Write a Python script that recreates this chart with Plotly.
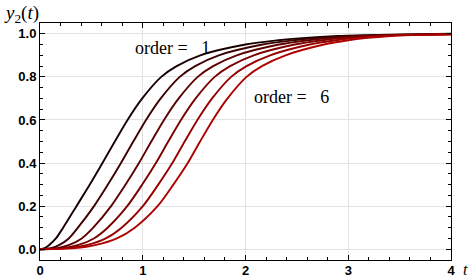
import plotly.graph_objects as go

levels = [0, 0.005, 0.02, 0.05, 0.1, 0.2, 0.3, 0.4, 0.5, 0.6, 0.7, 0.8, 0.85,
          0.9, 0.95, 0.97, 0.98, 0.99, 0.995]
end_values = [1.0, 0.999, 0.999, 0.998, 0.998, 0.997]

# time t at which each curve reaches the levels above (last entry: t = 4)
t_order1 = [0, 0.045, 0.09, 0.155, 0.225, 0.355, 0.485, 0.608, 0.728, 0.852, 0.995,
            1.18, 1.33, 1.56, 2.0, 2.32, 2.55, 2.9, 3.3, 4.0]
t_order2 = [0, 0.108, 0.189, 0.28, 0.369, 0.526, 0.661, 0.788, 0.908, 1.032, 1.175,
            1.36, 1.51, 1.74, 2.166, 2.468, 2.683, 3.012, 3.39, 4.0]
t_order3 = [0, 0.169, 0.285, 0.406, 0.518, 0.692, 0.833, 0.963, 1.083, 1.207, 1.35,
            1.535, 1.685, 1.915, 2.327, 2.611, 2.813, 3.12, 3.478, 4.0]
t_order4 = [0, 0.227, 0.376, 0.524, 0.658, 0.849, 0.995, 1.128, 1.248, 1.372, 1.515,
            1.70, 1.85, 2.08, 2.478, 2.746, 2.935, 3.222, 3.56, 4.0]
t_order5 = [0, 0.283, 0.464, 0.64, 0.794, 1.001, 1.151, 1.288, 1.408, 1.532, 1.675,
            1.86, 2.01, 2.24, 2.626, 2.878, 3.053, 3.322, 3.64, 4.0]
t_order6 = [0, 0.336, 0.547, 0.748, 0.922, 1.144, 1.298, 1.438, 1.558, 1.682, 1.825,
            2.01, 2.16, 2.39, 2.764, 3.001, 3.164, 3.415, 3.715, 4.0]

t_series = [t_order1, t_order2, t_order3, t_order4, t_order5, t_order6]
colors = ["rgb(25,0,0)", "rgb(60,0,0)", "rgb(92,0,0)", "rgb(122,0,0)",
          "rgb(150,0,0)", "rgb(175,0,0)"]

x_ticks = [0, 1, 2, 3, 4]
y_ticks = [0.0, 0.2, 0.4, 0.6, 0.8, 1.0]

fig = go.Figure()
for ts, yend, c in zip(t_series, end_values, colors):
    fig.add_trace(go.Scatter(x=ts, y=levels + [yend], mode="lines",
                             line=dict(color=c, width=1.9, shape="spline", smoothing=0.8),
                             showlegend=False, hoverinfo="skip"))

axis_common = dict(showline=True, linecolor="black", linewidth=1, mirror="allticks",
                   ticks="inside", tickcolor="black", ticklen=5, tickwidth=1,
                   showgrid=True, gridcolor="#e2e2e2", gridwidth=1, zeroline=False,
                   automargin=False,
                   tickfont=dict(family="Liberation Sans, Arial", size=13, color="black",
                                 weight="bold"))

fig.update_xaxes(range=[0, 4], tickvals=x_ticks, ticktext=[str(v) for v in x_ticks],
                 ticklabelstandoff=-2,
                 minor=dict(dtick=0.2, ticks="inside", ticklen=3, tickcolor="black",
                            showgrid=False),
                 **axis_common)
fig.update_yaxes(range=[-0.05, 1.05], tickvals=y_ticks,
                 ticktext=["%.1f" % v for v in y_ticks],
                 minor=dict(dtick=0.05, tick0=0, ticks="inside", ticklen=3,
                            tickcolor="black", showgrid=False),
                 **axis_common)

serif = "Liberation Serif, Times New Roman, serif"
fig.add_annotation(x=1.29, y=0.935, xref="x", yref="y", text="order =&nbsp;&nbsp; 1",
                   showarrow=False, font=dict(family=serif, size=18, color="black"))
fig.add_annotation(x=2.445, y=0.708, xref="x", yref="y", text="order =&nbsp;&nbsp; 6",
                   showarrow=False, font=dict(family=serif, size=18, color="black"))
fig.add_annotation(x=0, y=1, xref="paper", yref="paper", xshift=-38, yshift=23,
                   xanchor="left", yanchor="top",
                   text="<i>y</i><sub>2</sub>(<i>t</i>)", showarrow=False,
                   font=dict(family=serif, size=19, color="black"))
fig.add_annotation(x=1, y=0, xref="paper", yref="paper", xshift=10, yshift=-9,
                   xanchor="left", yanchor="middle", text="<i>t</i>", showarrow=False,
                   font=dict(family=serif, size=16, color="black"))

fig.update_layout(width=474, height=278, margin=dict(l=40, r=23, t=23, b=18),
                  plot_bgcolor="white", paper_bgcolor="white")
fig.write_html("out.html")
